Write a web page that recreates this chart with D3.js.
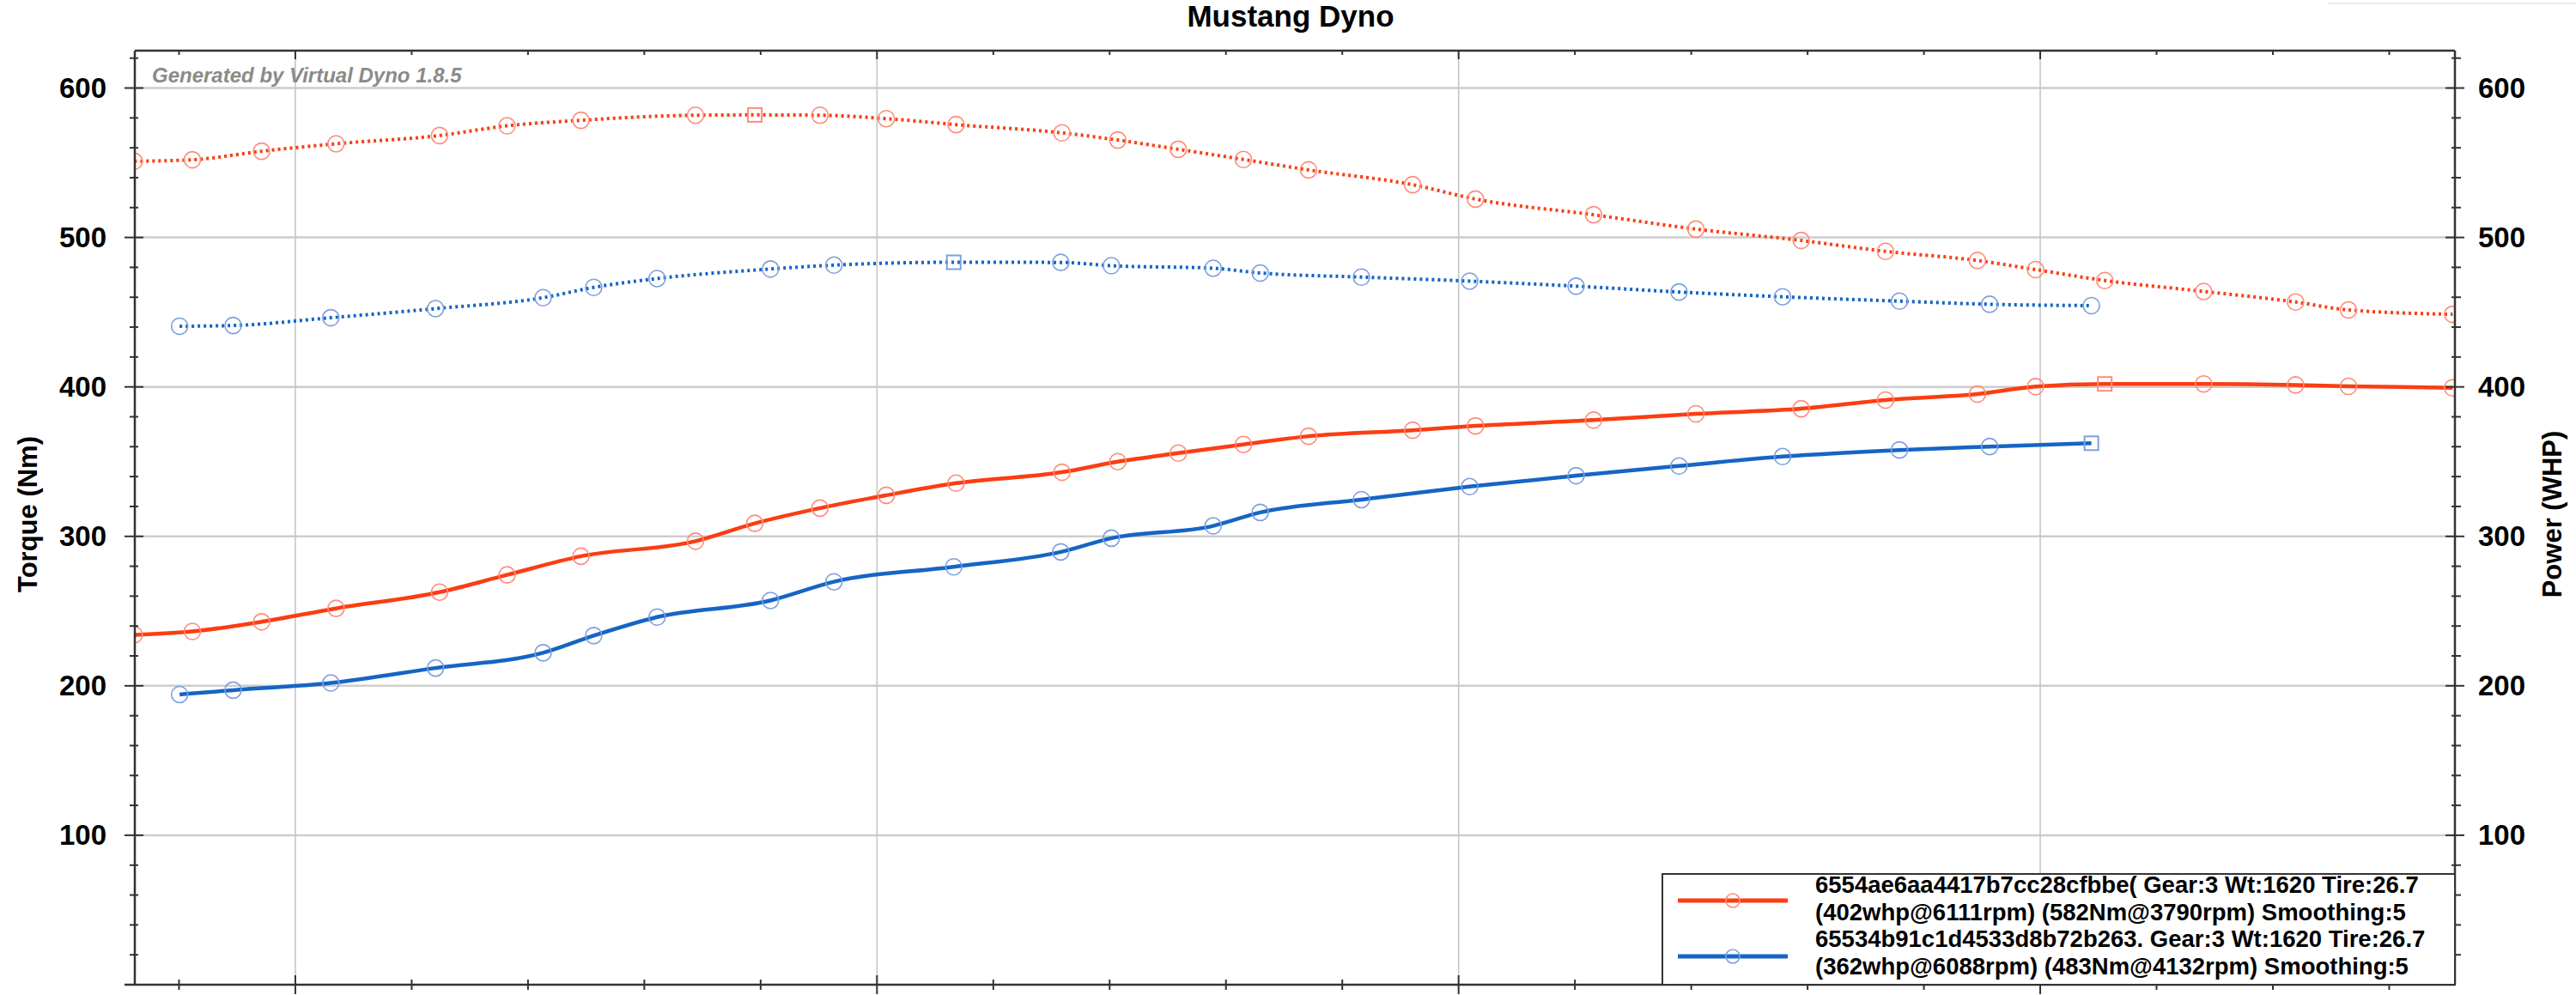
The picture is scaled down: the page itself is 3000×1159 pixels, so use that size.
<!DOCTYPE html>
<html><head><meta charset="utf-8">
<script src="https://cdn.jsdelivr.net/npm/d3@7"></script>
<style>html,body{margin:0;padding:0;background:#fff;} svg{display:block;font-family:"Liberation Sans",Arial,sans-serif;}</style>
</head><body><svg id="c" width="3000" height="1159"></svg>
<script>
// ---------- DATA ----------
const chartTitle = "Mustang Dyno";
const watermark = "Generated by Virtual Dyno 1.8.5";
const leftTitle = "Torque (Nm)";
const rightTitle = "Power (WHP)";
const yLabels = [100, 200, 300, 400, 500, 600];
const xMajorTicks = [3000, 4000, 5000, 6000];

const rpmRed = [2723, 2823, 2942, 3070, 3248, 3364, 3491, 3688, 3790, 3902, 4016, 4136, 4318, 4414, 4518, 4630, 4742, 4921, 5029, 5232, 5408, 5589, 5734, 5892, 5992, 6111, 6281, 6439, 6530, 6709];
const torqueRed = [551, 552, 557.7, 562.7, 568.2, 574.7, 578.4, 581.8, 582, 581.8, 579.5, 575.5, 570, 565.2, 559, 552.2, 545.2, 535.3, 525.7, 515.2, 505.6, 498, 490.7, 484.6, 478.5, 471.2, 463.9, 456.8, 451.5, 448.6];
const powerRed = [234.1, 236.4, 242.8, 251.8, 262.7, 274.2, 286.7, 296.8, 308.7, 318.9, 327.5, 335.6, 342.9, 350, 355.7, 361.5, 367, 371, 373.9, 377.8, 382, 385.4, 391.2, 395.2, 400.2, 402, 402, 401.3, 400.4, 399.4];

const rpmBlue = [2801, 2893, 3061, 3241, 3426, 3513, 3622, 3817, 3926, 4132, 4316, 4403, 4578, 4659, 4833, 5019, 5202, 5379, 5557, 5758, 5913, 6088];
const torqueBlue = [440.6, 441.1, 446.3, 452.4, 459.7, 466.6, 472.5, 478.9, 481.5, 483.4, 483.3, 481.1, 479.4, 476.2, 473.5, 470.8, 467.4, 463.5, 460.3, 457.4, 455.3, 454.4];
const powerBlue = [194.2, 197.1, 201.9, 211.9, 222.1, 233.6, 246, 257.1, 269.6, 279.6, 289.6, 298.8, 307, 316, 324.6, 333.3, 340.6, 347.1, 353.4, 357.8, 360.1, 362.3];

const legendRed = ["6554ae6aa4417b7cc28cfbbe( Gear:3 Wt:1620 Tire:26.7", "(402whp@6111rpm) (582Nm@3790rpm) Smoothing:5"];
const legendBlue = ["65534b91c1d4533d8b72b263. Gear:3 Wt:1620 Tire:26.7", "(362whp@6088rpm) (483Nm@4132rpm) Smoothing:5"];

// ---------- LAYOUT ----------
const L = 157, R = 2859, T = 59, B = 1147;
const RED = "#fb3d12", BLUE = "#1565c4";
const RED_M = "#ff8c7a", BLUE_M = "#7d9fe0";

const x = d3.scaleLinear().domain([2724, 6713]).range([L, R]);
const y = d3.scaleLinear().domain([0, 625]).range([B, T]);

const svg = d3.select("#c");
svg.append("rect").attr("width", 3000).attr("height", 1159).attr("fill", "#fff");
svg.append("defs").append("clipPath").attr("id", "plot")
  .append("rect").attr("x", L).attr("y", T).attr("width", R - L).attr("height", B - T);

// faint line top-right
svg.append("line").attr("x1", 2711).attr("x2", 3000).attr("y1", 4).attr("y2", 4).attr("stroke", "#ececec").attr("stroke-width", 2);

// gridlines
svg.append("g").selectAll("line").data(yLabels).join("line")
  .attr("x1", L).attr("x2", R).attr("y1", d => y(d)).attr("y2", d => y(d))
  .attr("stroke", "#cdcdcd").attr("stroke-width", 2.5);
svg.append("g").selectAll("line").data(xMajorTicks).join("line")
  .attr("x1", d => x(d)).attr("x2", d => x(d)).attr("y1", T).attr("y2", B)
  .attr("stroke", "#c6c6c6").attr("stroke-width", 1.6);

// watermark
svg.append("text").attr("x", 177).attr("y", 96).text(watermark)
  .attr("font-size", 24).attr("font-weight", "bold").attr("font-style", "italic").attr("fill", "#8a8a8a");

// series
function pts(r, v) { return r.map((d, i) => ({ rpm: d, v: v[i] })); }
const series = [
  { data: pts(rpmRed, torqueRed), color: RED, mcolor: RED_M, dotted: true, peak: 8 },
  { data: pts(rpmBlue, torqueBlue), color: BLUE, mcolor: BLUE_M, dotted: true, peak: 9 },
  { data: pts(rpmRed, powerRed), color: RED, mcolor: RED_M, dotted: false, peak: 25 },
  { data: pts(rpmBlue, powerBlue), color: BLUE, mcolor: BLUE_M, dotted: false, peak: 21 }
];
const line = d3.line().x(d => x(d.rpm)).y(d => y(d.v)).curve(d3.curveMonotoneX);
const plotG = svg.append("g").attr("clip-path", "url(#plot)");
series.forEach(s => {
  plotG.append("path").datum(s.data).attr("d", line).attr("fill", "none")
    .attr("stroke", s.color).attr("stroke-width", s.dotted ? 4 : 4.5)
    .attr("stroke-dasharray", s.dotted ? "3,4" : null);
});
series.forEach(s => {
  const g = plotG.append("g");
  g.selectAll("circle").data(s.data.filter((d, i) => i !== s.peak)).join("circle")
    .attr("cx", d => x(d.rpm)).attr("cy", d => y(d.v)).attr("r", 9.5)
    .attr("fill", "none").attr("stroke", s.mcolor).attr("stroke-width", 1.6);
  const p = s.data[s.peak];
  g.append("rect").attr("x", x(p.rpm) - 8).attr("y", y(p.v) - 8).attr("width", 16).attr("height", 16)
    .attr("fill", "none").attr("stroke", s.mcolor).attr("stroke-width", 2);
});

// frame
const frame = svg.append("g").attr("stroke", "#333").attr("stroke-width", 2.5);
frame.append("line").attr("x1", L).attr("x2", L).attr("y1", T).attr("y2", B);
frame.append("line").attr("x1", R).attr("x2", R).attr("y1", T).attr("y2", B);
frame.append("line").attr("x1", L).attr("x2", R).attr("y1", T).attr("y2", T);
frame.append("line").attr("x1", L - 12).attr("x2", R).attr("y1", B).attr("y2", B);

// ticks
const yTicks = d3.range(20, 621, 20);
const xTicks = d3.range(2800, 6601, 200);
const tk = svg.append("g").attr("stroke", "#333").attr("stroke-width", 2);
tk.selectAll(".yl").data(yTicks).join("line")
  .attr("x1", d => d % 100 === 0 ? L - 12 : L - 6).attr("x2", d => d % 100 === 0 ? L + 10 : L + 4)
  .attr("y1", d => y(d)).attr("y2", d => y(d));
tk.selectAll(".yr").data(yTicks).join("line")
  .attr("x1", d => d % 100 === 0 ? R - 11 : R - 4).attr("x2", d => d % 100 === 0 ? R + 11 : R + 7)
  .attr("y1", d => y(d)).attr("y2", d => y(d));
tk.selectAll(".xt").data(xTicks).join("line")
  .attr("x1", d => x(d)).attr("x2", d => x(d))
  .attr("y1", T).attr("y2", d => d % 1000 === 0 ? T + 10 : T + 5);
tk.selectAll(".xb").data(xTicks).join("line")
  .attr("x1", d => x(d)).attr("x2", d => x(d))
  .attr("y1", d => d % 1000 === 0 ? B - 11 : B - 6).attr("y2", d => d % 1000 === 0 ? B + 11 : B + 6);

// tick labels
const ax1 = svg.append("g").attr("transform", `translate(${L},0)`)
  .call(d3.axisLeft(y).tickValues(yLabels).tickSize(0).tickPadding(33));
const ax2 = svg.append("g").attr("transform", `translate(${R},0)`)
  .call(d3.axisRight(y).tickValues(yLabels).tickSize(0).tickPadding(27));
[ax1, ax2].forEach(a => {
  a.select(".domain").remove();
  a.selectAll("text").attr("font-size", 33).attr("font-weight", "bold").attr("fill", "#000")
    .attr("font-family", '"Liberation Sans",Arial,sans-serif');
});

// axis titles
svg.append("text").attr("transform", `translate(43,${(T + B) / 2 - 4}) rotate(-90)`)
  .attr("text-anchor", "middle").attr("font-size", 31).attr("font-weight", "bold").text(leftTitle);
svg.append("text").attr("transform", `translate(2983,${(T + B) / 2 - 4}) rotate(-90)`)
  .attr("text-anchor", "middle").attr("font-size", 31).attr("font-weight", "bold").text(rightTitle);

// title
svg.append("text").attr("x", 1503).attr("y", 31).attr("text-anchor", "middle")
  .attr("font-size", 35).attr("font-weight", "bold").text(chartTitle);

// legend
const lg = svg.append("g");
lg.append("rect").attr("x", 1936).attr("y", 1018).attr("width", R - 1936).attr("height", B - 1018)
  .attr("fill", "#fff").attr("stroke", "#333").attr("stroke-width", 2);
[[RED, RED_M, 1049, legendRed, 1040], [BLUE, BLUE_M, 1114, legendBlue, 1103]].forEach(([c, mc, ly, txt, ty]) => {
  lg.append("line").attr("x1", 1954).attr("x2", 2082).attr("y1", ly).attr("y2", ly).attr("stroke", c).attr("stroke-width", 5);
  lg.append("circle").attr("cx", 2018).attr("cy", ly).attr("r", 8).attr("fill", "none").attr("stroke", mc).attr("stroke-width", 1.6);
  txt.forEach((t, i) => lg.append("text").attr("x", 2114).attr("y", ty + i * 32).text(t)
    .attr("font-size", 27.5).attr("font-weight", "bold").attr("fill", "#000"));
});
</script></body></html>
